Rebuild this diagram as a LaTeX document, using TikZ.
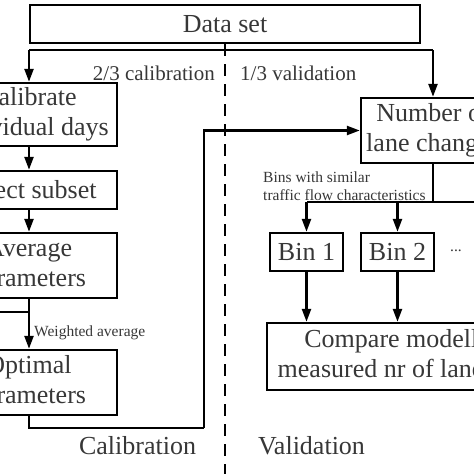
\documentclass[tikz,border=0pt]{standalone}
\usepackage{fontspec}
\setmainfont{Liberation Serif}
\usetikzlibrary{arrows.meta}
\definecolor{txtgray}{RGB}{55,55,55}

\begin{document}
\begin{tikzpicture}[x=1pt, y=-1pt, >={Triangle[length=13pt,width=9pt]}, line width=2.4pt,
    box/.style={draw, align=center, inner xsep=4pt, inner ysep=3pt, text=txtgray,
        font=\fontsize{26}{30}\selectfont},
    lbl/.style={inner sep=0pt, text=txtgray, font=\fontsize{21}{24}\selectfont},
    note/.style={inner sep=0pt, text=txtgray, align=left, font=\fontsize{15.5}{18}\selectfont},
    side/.style={inner sep=0pt, text=txtgray, font=\fontsize{26}{30}\selectfont}]
    \useasboundingbox (0,0) rectangle (474,474);
    \clip (0,0) rectangle (474,474);

    % Data set and split
    \node[box, minimum width=390pt, minimum height=38pt] (data) at (225,24) {Data set};
    \coordinate (spl) at (29,50);
    \coordinate (spr) at (433,50);
    \draw (spl) -- (spr);
    \draw[dash pattern=on 12pt off 8pt] (data.south) -- (225,480);
    \node[lbl, anchor=east] (cal23) at (216,73) {2/3 calibration};
    \node[lbl, anchor=west] (val13) at (239,73) {1/3 validation};

    % Calibration column
    \node[box, minimum width=176pt, minimum height=63pt] (calib) at (29,114.5) {Calibrate\\individual days};
    \node[box, minimum width=176pt, minimum height=38pt] (sel) at (29,190) {Select subset};
    \node[box, minimum width=176pt, minimum height=65pt] (avg) at (29,265.5) {Average\\parameters};
    \node[box, minimum width=176pt, minimum height=65pt] (opt) at (29,382.5) {Optimal\\parameters};
    \draw[->] (spl) -- (calib.north);
    \draw[->] (calib.south) -- (sel.north);
    \draw[->] (sel.south) -- (avg.north);
    \draw[->] (avg.south) -- (opt.north);
    \coordinate (fb) at (-10,312);
    \draw (fb) -- (fb -| opt.north);
    \node[note, anchor=west] (wavg) at (33,333) {Weighted average};
    \coordinate (loop) at (204,428);
    \draw (opt.south) |- (loop);

    % Validation column
    \node[box, minimum width=144pt, minimum height=65pt] (num) at (433,130.5) {Number of\\lane changes};
    \draw[->] (spr) -- (num.north);
    \draw[->] (loop) |- (num.west);
    \node[note, anchor=west] (bins) at (262,186) {Bins with similar\\traffic flow characteristics};
    \coordinate (bl) at (307,202);
    \coordinate (br) at (480,202);
    \draw (num.south) -- (num.south |- bl);
    \draw (bl) -- (br);
    \node[box, minimum width=73pt, minimum height=38pt] (bin1) at (306.5,252) {Bin 1};
    \node[box, minimum width=73pt, minimum height=38pt] (bin2) at (397.5,252) {Bin 2};
    \node[note] (dots) at (456,251) {...};
    \draw[->] (bin1.north |- bl) -- (bin1.north);
    \draw[->] (bin2.north |- bl) -- (bin2.north);
    \node[box, minimum width=318pt, minimum height=67pt] (cmp) at (425.7,356.5) {Compare modelled and\\measured nr of lane changes};
    \draw[->] (bin1.south) -- (bin1.south |- cmp.north);
    \draw[->] (bin2.south) -- (bin2.south |- cmp.north);

    % Section labels
    \node[side] (calt) at (137.5,446) {Calibration};
    \node[side] (valt) at (311.5,446) {Validation};
\end{tikzpicture}
\end{document}
